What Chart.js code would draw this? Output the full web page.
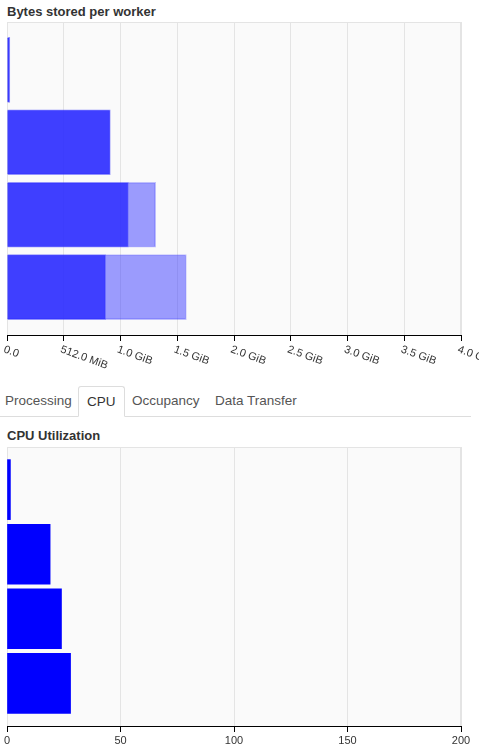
<!DOCTYPE html>
<html>
<head>
<meta charset="utf-8">
<script src="https://cdn.jsdelivr.net/npm/chart.js@4"></script>
<style>
    body { margin: 0; background: #fff; font-family: "Liberation Sans", Arial, sans-serif; width: 479px; height: 754px; position: relative; overflow: hidden; }
    .title { position: absolute; left: 7px; font-size: 13px; font-weight: bold; color: #333; }
    .box { position: absolute; left: 0; width: 479px; }
    .tabs { position: absolute; left: 0; top: 386px; width: 471px; height: 30px; border-bottom: 1px solid #ddd; font-size: 13.5px; color: #555; }
    .tab { position: absolute; top: 0; height: 29px; line-height: 30px; padding: 0 8px; }
    .tab.active { background: #fff; border: 1px solid #ddd; border-bottom: 1px solid #fff; border-radius: 3px 3px 0 0; color: #333; height: 29px; }
</style>
</head>
<body>
<div class="title" style="top:4px">Bytes stored per worker</div>
<div class="box" style="top:22px;height:363px"><canvas id="memChart"></canvas></div>
<div class="tabs">
    <div class="tab" style="left:-3px">Processing</div>
    <div class="tab active" style="left:78px">CPU</div>
    <div class="tab" style="left:124px">Occupancy</div>
    <div class="tab" style="left:207px">Data Transfer</div>
</div>
<div class="title" style="top:428px">CPU Utilization</div>
<div class="box" style="top:447px;height:307px"><canvas id="cpuChart"></canvas></div>
<script>
const GiB = 1024 * 1024 * 1024;

// workers, top to bottom
const workers = [0, 1, 2, 3];
// bytes in memory (dark) and total incl. spilled (light), in GiB
const memoryGiB = [0.025, 0.91, 1.07, 0.87];
const totalGiB = [0.025, 0.91, 1.31, 1.58];
// cpu percent
const cpuPercent = [1.5, 19, 24, 28];

const memTickMax = 4 * GiB;
const memTickStep = 0.5 * GiB;
const cpuTickMax = 200;
const cpuTickStep = 50;

Chart.defaults.font.family = '"Liberation Sans", Arial, sans-serif';
Chart.defaults.animation = false;

function formatBytes(v) {
    if (v === 0) return '0.0';
    if (v < GiB) return (v / 1024 / 1024).toFixed(1) + ' MiB';
    return (v / GiB).toFixed(1) + ' GiB';
}

// light background + frame around the plot area
const framePlugin = {
    id: 'frame',
    beforeDraw(chart) {
        const a = chart.chartArea, ctx = chart.ctx;
        ctx.save();
        ctx.fillStyle = '#fafafa';
        ctx.fillRect(a.left, a.top, a.right - a.left, a.bottom - a.top);
        ctx.strokeStyle = '#e4e4e4';
        ctx.lineWidth = 1;
        ctx.strokeRect(a.left + 0.5, a.top + 0.5, a.right - a.left - 1, a.bottom - a.top);
        ctx.restore();
    }
};

// rotated tick labels that hang down to the right of each tick
const slantLabels = {
    id: 'slantLabels',
    afterDraw(chart) {
        const scale = chart.scales.x, ctx = chart.ctx;
        ctx.save();
        ctx.font = '11px "Liberation Sans", Arial, sans-serif';
        ctx.fillStyle = '#333';
        ctx.textAlign = 'left';
        ctx.textBaseline = 'top';
        scale.ticks.forEach(t => {
            const x = scale.getPixelForValue(t.value);
            ctx.save();
            ctx.translate(x - 1, scale.top + 9);
            ctx.rotate(20 * Math.PI / 180);
            ctx.fillText(formatBytes(t.value), 0, 0);
            ctx.restore();
        });
        ctx.restore();
    }
};

function indexAxis(n) {
    return {
        type: 'linear', reverse: true, min: -0.66, max: n - 1 + 0.66,
        offset: false, display: false, afterFit: s => { s.width = 0; }
    };
}

new Chart(document.getElementById('memChart'), {
    type: 'bar',
    data: {
        datasets: [{
            data: workers.map(i => ({ y: i, x: memoryGiB[i] * GiB })),
            backgroundColor: 'rgba(40, 40, 255, 0.8)',
            borderColor: 'rgba(40, 40, 255, 0.3)',
            borderWidth: 1,
            barThickness: 65,
            grouped: false,
            order: 0
        }, {
            data: workers.map(i => ({ y: i, x: totalGiB[i] * GiB })),
            backgroundColor: 'rgba(60, 60, 255, 0.5)',
            borderColor: 'rgba(60, 60, 255, 0.3)',
            borderWidth: 1,
            barThickness: 65,
            grouped: false,
            order: 1
        }]
    },
    options: {
        indexAxis: 'y',
        responsive: true,
        maintainAspectRatio: false,
        layout: { padding: { left: 7, right: 18, top: 0, bottom: 0 } },
        plugins: { legend: { display: false }, tooltip: { enabled: false } },
        scales: {
            x: {
                min: 0, max: memTickMax, offset: false,
                ticks: { stepSize: memTickStep, autoSkip: false, maxRotation: 0, callback: () => '' },
                grid: { color: '#e4e4e4', tickColor: '#000', tickLength: 6, offset: false },
                border: { color: '#000', width: 1 },
                afterFit: s => { s.height = 50; }
            },
            y: indexAxis(workers.length)
        }
    },
    plugins: [framePlugin, slantLabels]
});

new Chart(document.getElementById('cpuChart'), {
    type: 'bar',
    data: {
        datasets: [{
            data: workers.map(i => ({ y: i, x: cpuPercent[i] })),
            backgroundColor: '#0000ff',
            barThickness: 60
        }]
    },
    options: {
        indexAxis: 'y',
        responsive: true,
        maintainAspectRatio: false,
        layout: { padding: { left: 7, right: 18, top: 0, bottom: 0 } },
        plugins: { legend: { display: false }, tooltip: { enabled: false } },
        scales: {
            x: {
                min: 0, max: cpuTickMax, offset: false,
                ticks: { stepSize: cpuTickStep, color: '#333', font: { size: 11 }, maxRotation: 0, padding: 2 },
                grid: { color: '#e4e4e4', tickColor: '#000', tickLength: 6, offset: false },
                border: { color: '#000', width: 1 },
                afterFit: s => { s.height = 28; }
            },
            y: indexAxis(workers.length)
        }
    },
    plugins: [framePlugin]
});
</script>
</body>
</html>
